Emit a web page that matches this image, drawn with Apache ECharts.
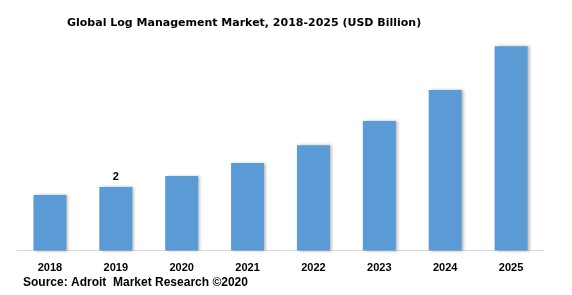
<!DOCTYPE html>
<html><head><meta charset="utf-8">
<script src="https://cdn.jsdelivr.net/npm/echarts@6/dist/echarts.min.js"></script>
<style>html,body{margin:0;padding:0;background:#fff}#c{width:572px;height:295px}</style>
</head><body><div id="c"></div>
<script>
var categories = ['2018','2019','2020','2021','2022','2023','2024','2025'];
var values = [1.75, 2, 2.35, 2.76, 3.32, 4.08, 5.06, 6.44];
var labeledIndex = [1];
var titleText = 'Global Log Management Market, 2018-2025 (USD Billion)';
var sourceText = 'Source: Adroit  Market Research \u00a92020';

var chart = echarts.init(document.getElementById('c'));
var data = values.map(function(v, i){
  return labeledIndex.indexOf(i) >= 0 ? {value: v, label: {show: true}} : v;
});
chart.setOption({
  animation: false,
  title: {text: titleText, left: 62, top: 13,
    textStyle: {fontFamily: 'DejaVu Sans', fontWeight: 'bold', fontSize: 11, color: '#000'}},
  grid: {left: 17, right: 28, top: 28.5, bottom: 44.5},
  xAxis: {type: 'category', data: categories,
    axisLine: {lineStyle: {color: '#d9d9d9', width: 1}},
    axisTick: {show: false},
    axisLabel: {color: '#000', fontFamily: 'Liberation Sans', fontWeight: 'bold', fontSize: 11, margin: 12}},
  yAxis: {type: 'value', min: 0, max: 7, show: false, splitLine: {show: false}},
  series: [{type: 'bar', data: data, barWidth: 33,
    itemStyle: {color: '#5B9BD5', shadowColor: 'rgba(0,0,0,0.3)', shadowBlur: 3, shadowOffsetX: 2},
    label: {show: false, position: 'top', color: '#000', fontFamily: 'Liberation Sans', fontWeight: 'bold', fontSize: 11, distance: 5}}],
  graphic: [{type: 'text', left: 23, top: 277,
    style: {text: sourceText, fill: '#000', font: 'bold 12px "Liberation Sans"'}}]
});
</script></body></html>
